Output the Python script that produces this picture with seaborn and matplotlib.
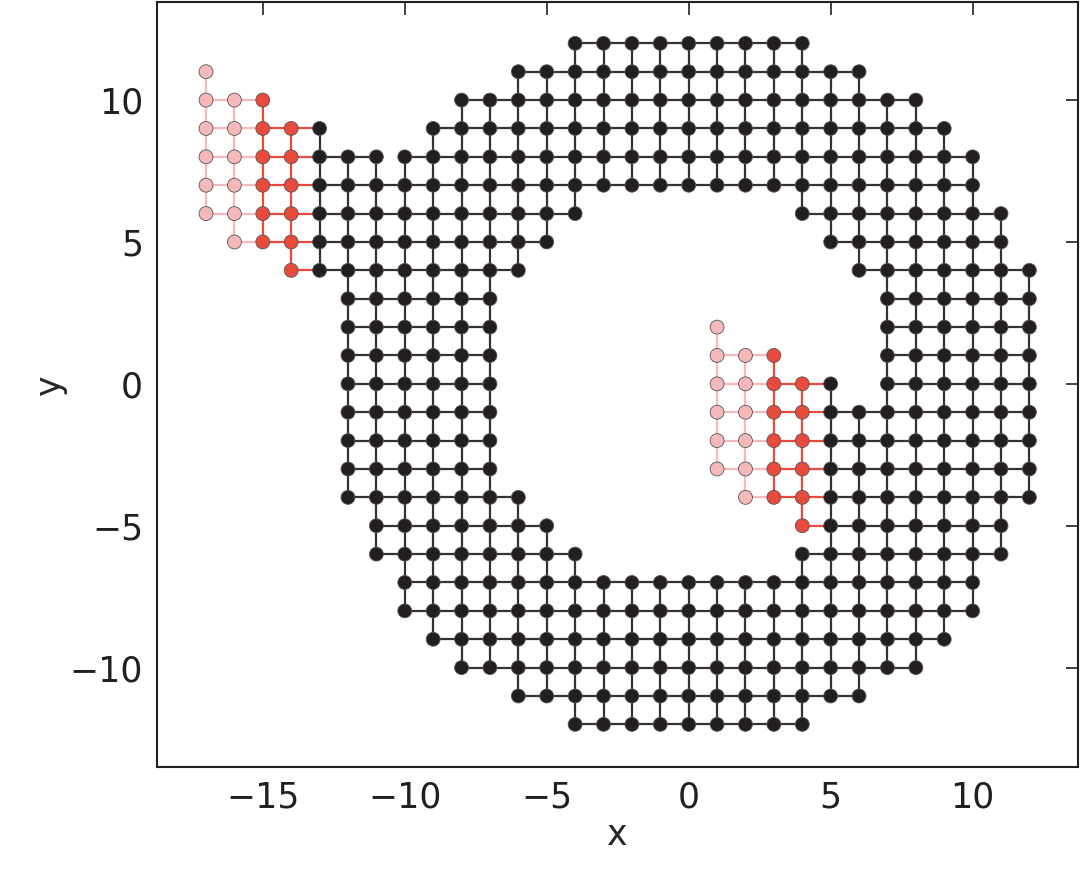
import matplotlib
matplotlib.use("Agg")
import matplotlib.pyplot as plt
import seaborn as sns
import pandas as pd
from matplotlib.collections import LineCollection

# Row spans: (y, x_start, x_end) for each site category
pink_rows = [(11, -17, -17), (10, -17, -16), (9, -17, -16), (8, -17, -16), (7, -17, -16),
             (6, -17, -16), (5, -16, -16),
             (2, 1, 1), (1, 1, 2), (0, 1, 2), (-1, 1, 2), (-2, 1, 2), (-3, 1, 2), (-4, 2, 2)]
red_rows = [(10, -15, -15), (9, -15, -14), (8, -15, -14), (7, -15, -14), (6, -15, -14),
            (5, -15, -14), (4, -14, -14),
            (1, 3, 3), (0, 3, 4), (-1, 3, 4), (-2, 3, 4), (-3, 3, 4), (-4, 3, 4), (-5, 4, 4)]
black_rows = [(12, -4, 4), (11, -6, 6), (10, -8, 8), (9, -13, -13), (9, -9, 9),
              (8, -13, -11), (8, -10, 10), (7, -13, 10), (6, -13, -4), (6, 4, 11),
              (5, -13, -5), (5, 5, 11), (4, -13, -6), (4, 6, 12), (3, -12, -7), (3, 7, 12),
              (2, -12, -7), (2, 7, 12), (1, -12, -7), (1, 7, 12), (0, -12, -7), (0, 5, 5), (0, 7, 12),
              (-1, -12, -7), (-1, 5, 12), (-2, -12, -7), (-2, 5, 12), (-3, -12, -7), (-3, 5, 12),
              (-4, -12, -6), (-4, 5, 12), (-5, -11, -5), (-5, 5, 11), (-6, -11, -4), (-6, 4, 11),
              (-7, -10, 10), (-8, -10, 10), (-9, -9, 9), (-10, -8, 8), (-11, -6, 6), (-12, -4, 4)]
# Neighbouring sites that are not bonded
cut_bonds = [((-11, 8), (-10, 8)), ((4, -5), (4, -6))]

cat_order = ["pink", "red", "black"]
colors = {"pink": "#f6b9b9", "red": "#e84a3c", "black": "#231f20"}
line_colors = {"pink": "#f6b9b9", "red": "#e84a3c", "black": "#333333"}

recs = []
for cat, rows in [("pink", pink_rows), ("red", red_rows), ("black", black_rows)]:
    for y, a, b in rows:
        for x in range(a, b + 1):
            recs.append((x, y, cat))
df = pd.DataFrame(recs, columns=["x", "y", "cat"])
site = {(r.x, r.y): r.cat for r in df.itertuples()}
cuts = set()
for p, q in cut_bonds:
    cuts.add((p, q)); cuts.add((q, p))

segs, segc = [], []
for (x, y), c in site.items():
    for dx, dy in [(1, 0), (0, 1)]:
        n = (x + dx, y + dy)
        if n in site and ((x, y), n) not in cuts:
            c2 = site[n]
            low = c if cat_order.index(c) < cat_order.index(c2) else c2
            segs.append([(x, y), n])
            segc.append(line_colors[low])

sns.set_style("white")
plt.rcParams["font.family"] = ["DejaVu Sans"]
fig = plt.figure(figsize=(10.82, 8.76), dpi=100)
ax = fig.add_axes([0.145, 0.1245, 0.851, 0.873])
ax.add_collection(LineCollection(segs, colors=segc, linewidths=1.6, zorder=1))
sns.scatterplot(data=df, x="x", y="y", hue="cat", palette=colors, s=100,
                edgecolor="#555555", linewidth=0.6, legend=False, ax=ax, zorder=2)
ax.set_xlim(-18.73, 13.7)
ax.set_ylim(-13.5, 13.45)
ax.set_xticks([-15, -10, -5, 0, 5, 10])
ax.set_yticks([-10, -5, 0, 5, 10])
ax.set_xticklabels(["\u221215", "\u221210", "\u22125", "0", "5", "10"])
ax.set_yticklabels(["\u221210", "\u22125", "0", "5", "10"])
ax.tick_params(direction="in", length=9, width=1.2, labelsize=25, top=True, right=True,
               pad=10, colors="#231f20")
ax.set_xlabel("x", fontsize=25, labelpad=2)
ax.set_ylabel("y", fontsize=25, labelpad=2)
for s in ax.spines.values():
    s.set_linewidth(1.5); s.set_color("#231f20")
fig.savefig("out.png", dpi=100)
